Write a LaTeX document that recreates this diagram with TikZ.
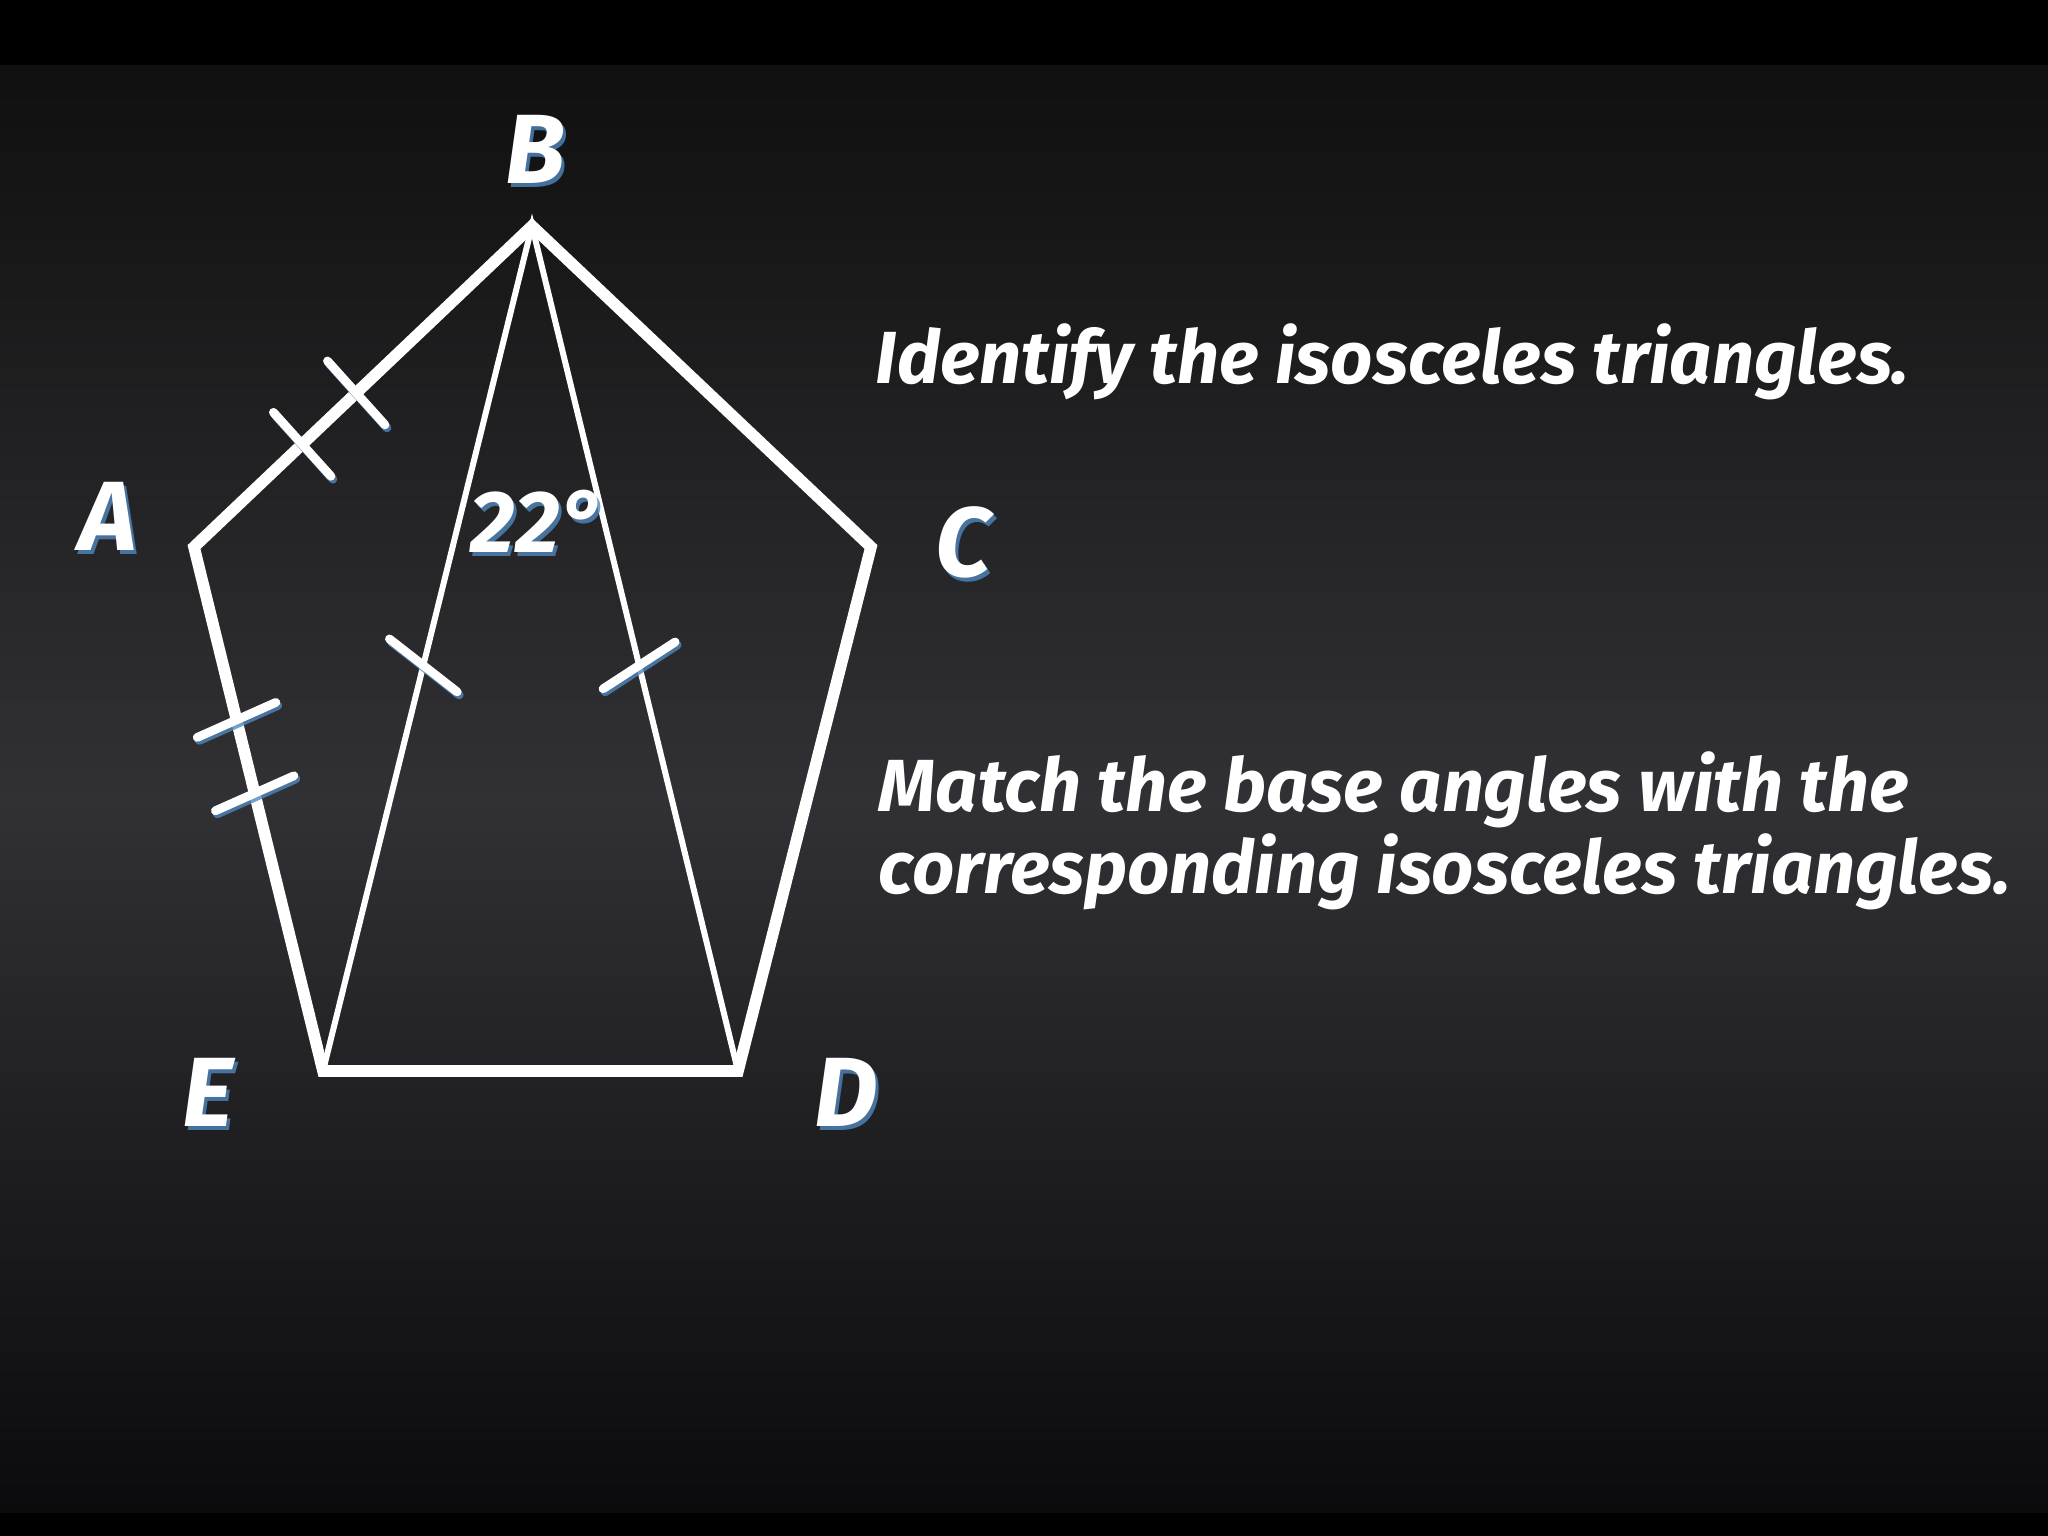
\documentclass[tikz,border=0pt]{standalone}
\usepackage{fontspec}
\setmainfont{Fira Sans}
\usetikzlibrary{calc}
\definecolor{glowblue}{RGB}{80,135,190}
\definecolor{boardtop}{RGB}{16,16,16}
\definecolor{boardmid}{RGB}{49,48,52}
\definecolor{boardbot}{RGB}{11,10,12}
\tikzstyle{outer} = [white,line width=3.3pt,line join=miter]
\tikzstyle{inner} = [white,line width=1.7pt]
\tikzstyle{hash} = [line width=2.5pt,line cap=round]
\tikzstyle{vlabel} = [font=\fontsize{28}{30}\selectfont\bfseries\itshape,inner sep=0pt]
\tikzstyle{anglabel} = [font=\fontsize{25}{28}\selectfont\bfseries\itshape,inner sep=0pt]
\tikzstyle{prompt} = [font=\fontsize{21}{23.3}\selectfont\bfseries\itshape,text=white,anchor=base west,align=left,inner sep=0pt]

\newcommand{\hashmark}[4]{%
  \coordinate (hm) at ($(#1)!#3!(#2)$);
  \draw[hash,glowblue,opacity=0.8] ($(hm)+(180+#4:43)+(2,3)$) -- ($(hm)+(#4:43)+(2,3)$);
  \draw[hash,white] ($(hm)+(180+#4:43)$) -- ($(hm)+(#4:43)$);
}
\newcommand{\glowtext}[4]{%
  \node[#3,text=glowblue,opacity=0.8] at ($(#2)+(3,4)$) {#4};
  \node[#3,text=white] (#1) at (#2) {#4};
}

\begin{document}
\begin{tikzpicture}[x=0.01cm,y=-0.01cm]
\useasboundingbox (0,0) rectangle (2048,1536);
\fill[black] (0,0) rectangle (2048,1536);
\shade[top color=boardtop,bottom color=boardmid] (0,65) rectangle (2048,800);
\shade[top color=boardmid,bottom color=boardbot] (0,800) rectangle (2048,1512);

\coordinate (A) at (194,547);
\coordinate (B) at (532,226);
\coordinate (C) at (871,547);
\coordinate (D) at (738,1071);
\coordinate (E) at (323,1071);

\draw[inner] (E) -- (B) -- (D);
\draw[outer] (A) -- (B) -- (C) -- (D) -- (E) -- cycle;

\foreach \t in {0.32,0.48}
{
  \hashmark{A}{B}{\t}{48}
}
\foreach \t in {0.33,0.47}
{
  \hashmark{A}{E}{\t}{-24}
}
\hashmark{B}{E}{0.52}{38}
\hashmark{B}{D}{0.52}{-33}

\glowtext{lblA}{108,516}{vlabel}{A}
\glowtext{lblB}{535,149}{vlabel}{B}
\glowtext{lblC}{963,542}{vlabel}{C}
\glowtext{lblD}{846,1092}{vlabel}{D}
\glowtext{lblE}{208,1092}{vlabel}{E}
\glowtext{angB}{538,521}{anglabel}{22°}

\node[prompt] (task1) at (875,383) {Identify the isosceles triangles.};
\node[prompt] (task2) at (878,893) {Match the base angles with the\\corresponding isosceles triangles.};
\end{tikzpicture}
\end{document}
